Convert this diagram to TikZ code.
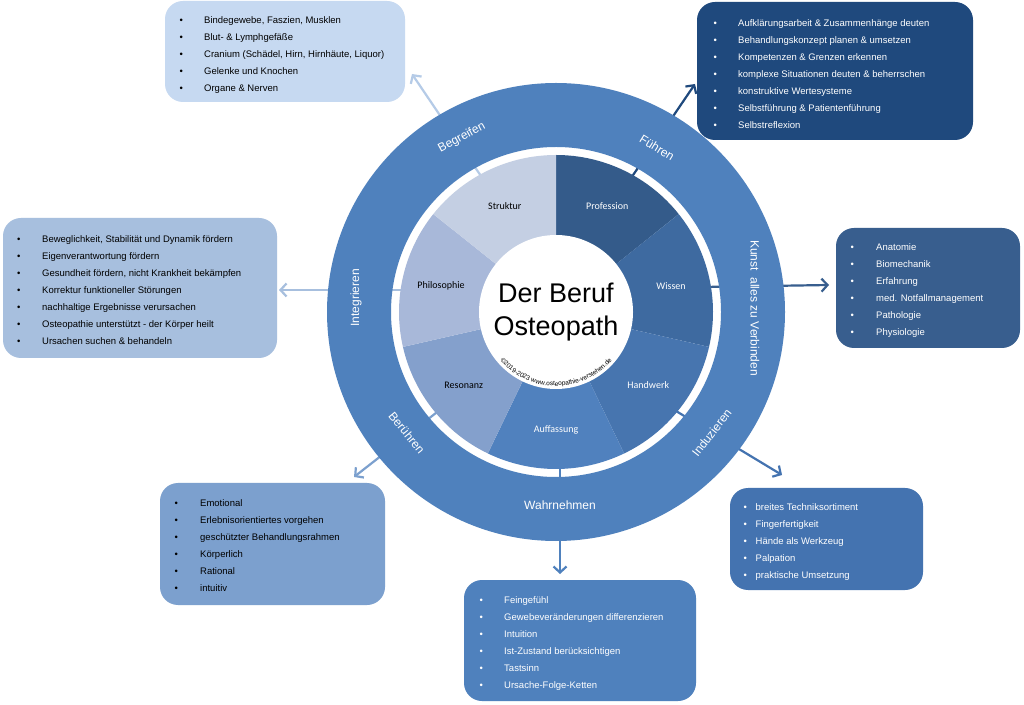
\documentclass[tikz,border=0pt]{standalone}
\usepackage{fontspec}
\setmainfont{Liberation Sans}
\newfontfamily\wedgefont{Carlito}
\usetikzlibrary{arrows.meta,decorations.text}
\definecolor{ringblue}{HTML}{4F81BD}
\definecolor{profcol}{HTML}{345B8A}
\definecolor{wisscol}{HTML}{3E6AA0}
\definecolor{handcol}{HTML}{4775AF}
\definecolor{auffcol}{HTML}{5081BE}
\definecolor{resocol}{HTML}{84A0CC}
\definecolor{philcol}{HTML}{A8B8D9}
\definecolor{strucol}{HTML}{C4CFE3}
\definecolor{begrcol}{HTML}{C6D9F1}
\definecolor{begrarrow}{HTML}{B5CBE7}
\definecolor{fuehcol}{HTML}{1F497D}
\definecolor{kunscol}{HTML}{385E8E}
\definecolor{induzcol}{HTML}{4473B0}
\definecolor{wahrcol}{HTML}{4F81BD}
\definecolor{beruecol}{HTML}{7CA0CE}
\definecolor{integcol}{HTML}{A7BFDE}
\newcommand{\osbul}[1][24.5pt]{\makebox[#1][l]{•}}
\begin{document}
\begin{tikzpicture}[x=1pt,y=1pt,
  box/.style={rounded corners=18pt,inner sep=0pt},
  boxtext/.style={anchor=north west,inner sep=0pt,align=left,font=\fontsize{9.5}{17}\selectfont},
  wedgelabel/.style={inner sep=0pt,font=\wedgefont\fontsize{10}{12}\selectfont},
  ringlabel/.style={inner sep=0pt,text=white,font=\fontsize{12}{14}\selectfont},
  conn/.style={line width=2.2pt,-{Straight Barb[length=6pt,width=13pt]}}]
\fill[white] (0,0) rectangle (1024,704);
\begin{scope}[shift={(556,392)}]
% connectors, partly hidden under the ring
\coordinate (begreifenin) at (-71,130);
\coordinate (begreifentip) at (-144,238);
\coordinate (fuehrenin) at (71,128);
\coordinate (fuehrentip) at (139,228);
\coordinate (kunstin) at (147,25);
\coordinate (kunsttip) at (273,27);
\coordinate (induzierenin) at (115,-96);
\coordinate (induzierentip) at (226,-163);
\coordinate (wahrnehmenin) at (4,-150);
\coordinate (wahrnehmentip) at (4,-262);
\coordinate (beruehrenin) at (-115,-97);
\coordinate (beruehrentip) at (-202,-165);
\coordinate (integrierenin) at (-150,22);
\coordinate (integrierentip) at (-277,22);
\draw[conn,begrarrow] (begreifenin) -- (begreifentip);
\draw[conn,fuehcol] (fuehrenin) -- (fuehrentip);
\draw[conn,kunscol] (kunstin) -- (kunsttip);
\draw[conn,induzcol] (induzierenin) -- (induzierentip);
\draw[conn,wahrcol] (wahrnehmenin) -- (wahrnehmentip);
\draw[conn,beruecol] (beruehrenin) -- (beruehrentip);
\draw[conn,integcol] (integrierenin) -- (integrierentip);
% outer ring
\fill[ringblue,even odd rule] (0,0) circle (229) (0,0) circle (165);
% wedges
\fill[profcol] (0,0) -- (90:157) arc[start angle=90,end angle=38.571,radius=157] -- cycle;
\fill[wisscol] (0,0) -- (38.571:157) arc[start angle=38.571,end angle=-12.857,radius=157] -- cycle;
\fill[handcol] (0,0) -- (-12.857:157) arc[start angle=-12.857,end angle=-64.286,radius=157] -- cycle;
\fill[auffcol] (0,0) -- (-64.286:157) arc[start angle=-64.286,end angle=-115.714,radius=157] -- cycle;
\fill[resocol] (0,0) -- (-115.714:157) arc[start angle=-115.714,end angle=-167.143,radius=157] -- cycle;
\fill[philcol] (0,0) -- (-167.143:157) arc[start angle=-167.143,end angle=-218.571,radius=157] -- cycle;
\fill[strucol] (0,0) -- (141.429:157) arc[start angle=141.429,end angle=90,radius=157] -- cycle;
\fill[white] (0,0) circle (77);
% wedge labels
\node[wedgelabel,text=white] (profession) at (64.286:118) {Profession};
\node[wedgelabel,text=white] (wissen) at (12.857:118) {Wissen};
\node[wedgelabel,text=white] (handwerk) at (-38.571:118) {Handwerk};
\node[wedgelabel,text=white] (auffassung) at (-90:118) {Auffassung};
\node[wedgelabel] (resonanz) at (-141.429:118) {Resonanz};
\node[wedgelabel] (philosophie) at (167.143:118) {Philosophie};
\node[wedgelabel] (struktur) at (115.714:118) {Struktur};
% centre
\node[inner sep=0pt,align=center,font=\fontsize{27}{33}\selectfont] (beruf) at (0,0) {Der Beruf\\Osteopath};
\path[decorate,decoration={text along path,text align=center,text={|\fontsize{6.5}{7}\selectfont|©2019-2023 www.osteopathie-verstehen.de}}] (217:74) arc[start angle=217,end angle=323,radius=74];
% ring labels
\node[ringlabel,rotate=28.4] (begreifen) at (118.4:198) {Begreifen};
\node[ringlabel,rotate=-31.6] (fuehren) at (58.4:193) {Führen};
\node[ringlabel,rotate=-90] (kunst) at (199,4) {Kunst~ alles zu Verbinden};
\node[ringlabel,rotate=52.2] (induzieren) at (-37.8:197) {Induzieren};
\node[ringlabel] (wahrnehmen) at (4,-193) {Wahrnehmen};
\node[ringlabel,rotate=-51] (beruehren) at (219:192) {Berühren};
\node[ringlabel,rotate=90] (integrieren) at (-200,14) {Integrieren};
\end{scope}
% boxes
\node[box,fill=begrcol,minimum width=240pt,minimum height=101pt] (begreifenbox) at (285,652.5) {};
\node[boxtext] (begreifentext) at (179.5,688) {\osbul Bindegewebe, Faszien, Musklen\\
\osbul Blut- \& Lymphgefäße\\
\osbul Cranium (Schädel, Hirn, Hirnhäute, Liquor)\\
\osbul Gelenke und Knochen\\
\osbul Organe \& Nerven};
\node[box,fill=fuehcol,minimum width=276pt,minimum height=138pt] (fuehrenbox) at (835,633) {};
\node[boxtext,text=white] (fuehrentext) at (713.5,685) {\osbul Aufklärungsarbeit \& Zusammenhänge deuten\\
\osbul Behandlungskonzept planen \& umsetzen\\
\osbul Kompetenzen \& Grenzen erkennen\\
\osbul komplexe Situationen deuten \& beherrschen\\
\osbul konstruktive Wertesysteme\\
\osbul Selbstführung \& Patientenführung\\
\osbul Selbstreflexion};
\node[box,fill=integcol,minimum width=274pt,minimum height=140pt] (integrierenbox) at (140,416) {};
\node[boxtext] (integrierentext) at (17,469) {\osbul[25pt]Beweglichkeit, Stabilität und Dynamik fördern\\
\osbul[25pt]Eigenverantwortung fördern\\
\osbul[25pt]Gesundheit fördern, nicht Krankheit bekämpfen\\
\osbul[25pt]Korrektur funktioneller Störungen\\
\osbul[25pt]nachhaltige Ergebnisse verursachen\\
\osbul[25pt]Osteopathie unterstützt - der Körper heilt\\
\osbul[25pt]Ursachen suchen \& behandeln};
\node[box,fill=kunscol,minimum width=184pt,minimum height=120pt] (kunstbox) at (928,416) {};
\node[boxtext,text=white] (kunsttext) at (850.5,460.5) {\osbul[25.5pt]Anatomie\\
\osbul[25.5pt]Biomechanik\\
\osbul[25.5pt]Erfahrung\\
\osbul[25.5pt]med. Notfallmanagement\\
\osbul[25.5pt]Pathologie\\
\osbul[25.5pt]Physiologie};
\node[box,fill=beruecol,minimum width=225pt,minimum height=122pt] (beruehrenbox) at (272.5,160) {};
\node[boxtext] (beruehrentext) at (174.5,204.5) {\osbul[25.5pt]Emotional\\
\osbul[25.5pt]Erlebnisorientiertes vorgehen\\
\osbul[25.5pt]geschützter Behandlungsrahmen\\
\osbul[25.5pt]Körperlich\\
\osbul[25.5pt]Rational\\
\osbul[25.5pt]intuitiv};
\node[box,fill=wahrcol,minimum width=232pt,minimum height=121pt] (wahrnehmenbox) at (580,63.5) {};
\node[boxtext,text=white] (wahrnehmentext) at (479.5,107.5) {\osbul Feingefühl\\
\osbul Gewebeveränderungen differenzieren\\
\osbul Intuition\\
\osbul Ist-Zustand berücksichtigen\\
\osbul Tastsinn\\
\osbul Ursache-Folge-Ketten};
\node[box,fill=induzcol,minimum width=193pt,minimum height=102pt] (induzierenbox) at (826.5,165) {};
\node[boxtext,text=white] (induzierentext) at (743.5,201) {\osbul[12pt]breites Techniksortiment\\
\osbul[12pt]Fingerfertigkeit\\
\osbul[12pt]Hände als Werkzeug\\
\osbul[12pt]Palpation\\
\osbul[12pt]praktische Umsetzung};
\end{tikzpicture}
\end{document}
